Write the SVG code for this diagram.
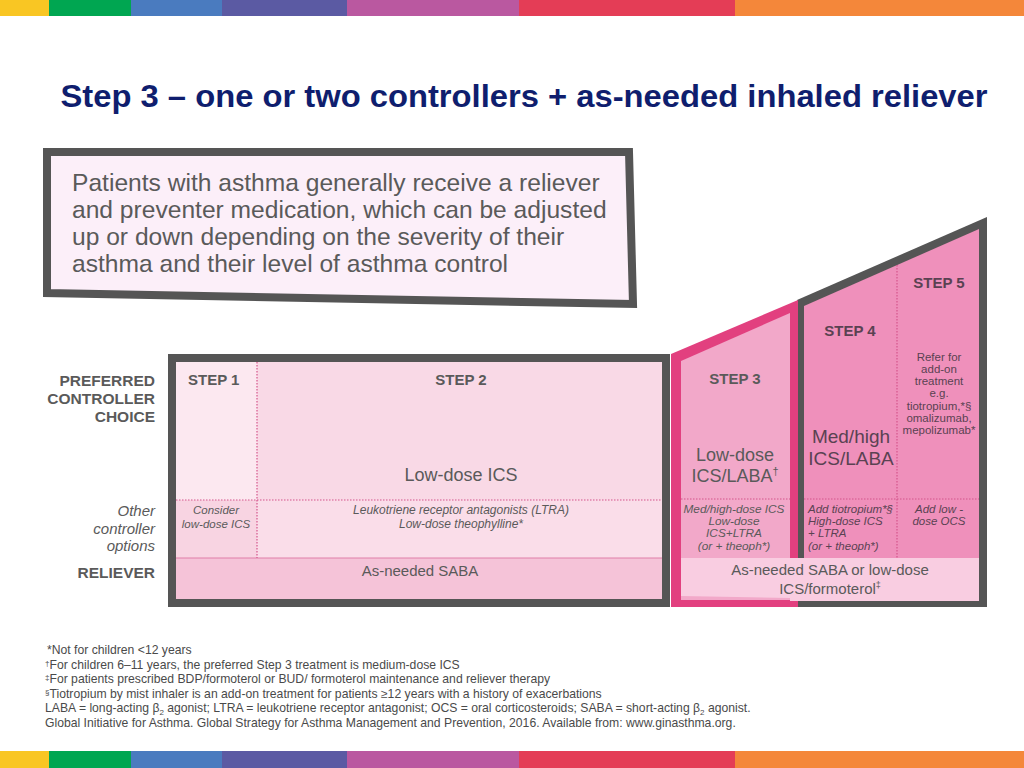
<svg xmlns="http://www.w3.org/2000/svg" width="1024" height="768" viewBox="0 0 1024 768">
<style>
.t{font-family:"Liberation Sans",Arial,sans-serif;fill:#5a5a5a}
.b{font-weight:bold}
.i{font-style:italic}
.m{text-anchor:middle}
.e{text-anchor:end}
.p{fill:#5a4252}
.dot{stroke:#D4558C;stroke-width:1.2;stroke-dasharray:1.5 1.5;fill:none}
.fn{font-family:"Liberation Sans",Arial,sans-serif;fill:#4a4a4a;font-size:12.2px}
</style>
<rect width="1024" height="768" fill="#ffffff"/>
<g id="topbar">
<rect x="0" y="0" width="49" height="16" fill="#F9C623"/>
<rect x="49" y="0" width="82" height="16" fill="#00A651"/>
<rect x="131" y="0" width="91" height="16" fill="#4A7BBF"/>
<rect x="222" y="0" width="125" height="16" fill="#5B5AA3"/>
<rect x="347" y="0" width="172" height="16" fill="#BA58A0"/>
<rect x="519" y="0" width="216" height="16" fill="#E43D56"/>
<rect x="735" y="0" width="289" height="16" fill="#F4873A"/>
</g>
<g id="bottombar">
<rect x="0" y="751" width="49" height="17" fill="#F9C623"/>
<rect x="49" y="751" width="82" height="17" fill="#00A651"/>
<rect x="131" y="751" width="91" height="17" fill="#4A7BBF"/>
<rect x="222" y="751" width="125" height="17" fill="#5B5AA3"/>
<rect x="347" y="751" width="172" height="17" fill="#BA58A0"/>
<rect x="519" y="751" width="216" height="17" fill="#E43D56"/>
<rect x="735" y="751" width="289" height="17" fill="#F4873A"/>
</g>
<text id="title" x="524" y="107" text-anchor="middle" font-family="Liberation Sans,Arial,sans-serif" font-weight="bold" font-size="32" fill="#0F1E6E" textLength="927" lengthAdjust="spacingAndGlyphs">Step 3 – one or two controllers + as-needed inhaled reliever</text>
<g id="intro">
<polygon points="47,152 629,152 633,304 47,293" fill="#FCEFF9" stroke="#555555" stroke-width="8" stroke-linejoin="miter"/>
<text class="t" font-size="24.6" x="72" y="191">Patients with asthma generally receive a reliever</text>
<text class="t" font-size="24.6" x="72" y="218">and preventer medication, which can be adjusted</text>
<text class="t" font-size="24.6" x="72" y="245">up or down depending on the severity of their</text>
<text class="t" font-size="24.6" x="72" y="272">asthma and their level of asthma control</text>
</g>
<g id="row-labels">
<text class="t b e" font-size="15.5" x="155" y="386">PREFERRED</text>
<text class="t b e" font-size="15.5" x="155" y="404">CONTROLLER</text>
<text class="t b e" font-size="15.5" x="155" y="422">CHOICE</text>
<text class="t i e" font-size="15" x="155" y="516">Other</text>
<text class="t i e" font-size="15" x="155" y="534">controller</text>
<text class="t i e" font-size="15" x="155" y="551">options</text>
<text class="t b e" font-size="15.5" x="155" y="578">RELIEVER</text>
</g>
<g id="step1-2">
<rect x="176" y="362" width="81" height="138" fill="#FCE8F0"/>
<rect x="176" y="500" width="81" height="58" fill="#F8D4E2"/>
<rect x="257" y="362" width="409" height="138" fill="#F9D9E6"/>
<rect x="257" y="500" width="409" height="58" fill="#FADDE9"/>
<rect x="176" y="558" width="490" height="41" fill="#F5C3D8"/>
<line x1="176" y1="558" x2="666" y2="558" stroke="#E07FA8" stroke-width="1"/>
<line class="dot" x1="176" y1="500" x2="666" y2="500"/>
<line class="dot" x1="257" y1="362" x2="257" y2="558"/>
<rect x="172" y="358" width="494" height="245" fill="none" stroke="#555555" stroke-width="8"/>
<text class="t b" font-size="15" x="188" y="385">STEP 1</text>
<text class="t i m" font-size="11.5" x="216" y="514">Consider</text>
<text class="t i m" font-size="11.5" x="216" y="528">low-dose ICS</text>
<text class="t b m" font-size="15" x="461" y="385">STEP 2</text>
<text class="t m" font-size="18" x="461" y="481">Low-dose ICS</text>
<text class="t i m" font-size="12" x="461" y="514">Leukotriene receptor antagonists (LTRA)</text>
<text class="t i m" font-size="12" x="461" y="528">Low-dose theophylline*</text>
<text class="t m" font-size="15" x="420" y="576">As-needed SABA</text>
</g>
<g id="step4-5">
<polygon points="797,300 987,217 987,607 797,607" fill="#555555"/>
<polygon points="804,306 979,229 979,600 804,600" fill="#EF90BB"/>
<line class="dot" x1="804" y1="499" x2="979" y2="499"/>
<line class="dot" x1="897" y1="265" x2="897" y2="558"/>
<text class="t b m p" font-size="15" x="850" y="336">STEP 4</text>
<text class="t m p" font-size="19" x="851" y="443">Med/high</text>
<text class="t m p" font-size="19" x="851" y="465">ICS/LABA</text>
<text class="t i p" font-size="11.5" x="808" y="513">Add tiotropium*§</text>
<text class="t i p" font-size="11.5" x="808" y="525">High-dose ICS</text>
<text class="t i p" font-size="11.5" x="808" y="537">+ LTRA</text>
<text class="t i p" font-size="11.5" x="808" y="550">(or + theoph*)</text>
<text class="t b m p" font-size="15" x="939" y="288">STEP 5</text>
<text class="t m p" font-size="11.5" x="939" y="361">Refer for</text>
<text class="t m p" font-size="11.5" x="939" y="373">add-on</text>
<text class="t m p" font-size="11.5" x="939" y="385">treatment</text>
<text class="t m p" font-size="11.5" x="939" y="397">e.g.</text>
<text class="t m p" font-size="11.5" x="939" y="410">tiotropium,*§</text>
<text class="t m p" font-size="11.5" x="939" y="422">omalizumab,</text>
<text class="t m p" font-size="11.5" x="939" y="434">mepolizumab*</text>
<text class="t i m p" font-size="11.5" x="939" y="513">Add low -</text>
<text class="t i m p" font-size="11.5" x="939" y="525">dose OCS</text>
</g>
<g id="step3">
<polygon points="671,354 798,300 798,607 671,607" fill="#E2407F"/>
<polygon points="681,361 790,313 790,600 681,600" fill="#F2A8C9"/>
<line class="dot" x1="681" y1="499" x2="790" y2="499"/>
<text class="t b m" font-size="15" x="735" y="384">STEP 3</text>
<text class="t m" font-size="18" x="735" y="461">Low-dose</text>
<text class="t m" font-size="18" x="735" y="482">ICS/LABA<tspan font-size="11" dy="-7">†</tspan></text>
<text class="t i m" font-size="11.8" x="734" y="513">Med/high-dose ICS</text>
<text class="t i m" font-size="11.8" x="734" y="525">Low-dose</text>
<text class="t i m" font-size="11.8" x="734" y="537">ICS+LTRA</text>
<text class="t i m" font-size="11.8" x="734" y="550">(or + theoph*)</text>
</g>
<g id="reliever-3-5">
<polygon points="681,558 979,558 979,601 790,601 790,598 681,596" fill="#F9CDE1"/>
<text class="t m" font-size="15" x="830" y="575">As-needed SABA or low-dose</text>
<text class="t m" font-size="15" x="830" y="594">ICS/formoterol<tspan font-size="9" dy="-6">‡</tspan></text>
</g>
<g id="footnotes">
<text class="fn" x="47" y="654">*Not for children &lt;12 years</text>
<text class="fn" x="45" y="668.5"><tspan font-size="8" dy="-3">†</tspan><tspan dy="3">For children 6–11 years, the preferred Step 3 treatment is medium-dose ICS</tspan></text>
<text class="fn" x="45" y="683"><tspan font-size="8" dy="-3">‡</tspan><tspan dy="3">For patients prescribed BDP/formoterol or BUD/ formoterol maintenance and reliever therapy</tspan></text>
<text class="fn" x="45" y="697.5"><tspan font-size="8" dy="-3">§</tspan><tspan dy="3">Tiotropium by mist inhaler is an add-on treatment for patients ≥12 years with a history of exacerbations</tspan></text>
<text class="fn" x="45" y="712">LABA = long-acting β<tspan font-size="8" dy="3">2</tspan><tspan dy="-3"> agonist; LTRA = leukotriene receptor antagonist; OCS = oral corticosteroids; SABA = short-acting β</tspan><tspan font-size="8" dy="3">2</tspan><tspan dy="-3"> agonist.</tspan></text>
<text class="fn" x="45" y="726.5">Global Initiative for Asthma. Global Strategy for Asthma Management and Prevention, 2016. Available from: www.ginasthma.org.</text>
</g>
</svg>
